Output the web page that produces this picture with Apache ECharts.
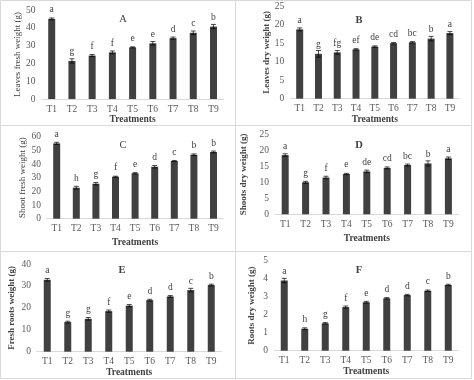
<!DOCTYPE html>
<html><head><meta charset="utf-8">
<script src="https://cdn.jsdelivr.net/npm/echarts@6/dist/echarts.min.js"></script>
<style>html,body{margin:0;padding:0;background:#fff}#c{width:474px;height:380px}</style>
</head><body><div id="c"></div><script>
const categories = ['T1','T2','T3','T4','T5','T6','T7','T8','T9'];

const leavesFresh = [45.0, 21.4, 24.4, 26.2, 29.0, 31.3, 34.2, 37.2, 40.7];
const leavesFreshErr = [0.5, 1.2, 0.6, 0.8, 0.3, 1.0, 0.6, 1.0, 1.2];
const leavesFreshLetters = ['a','g','f','f','e','e','d','c','b'];

const leavesDry = [18.7, 12.1, 12.5, 13.3, 14.05, 14.95, 15.2, 16.2, 17.7];
const leavesDryErr = [0.4, 0.9, 0.5, 0.2, 0.2, 0.2, 0.2, 0.6, 0.4];
const leavesDryLetters = ['a','g','fg','ef','de','cd','bc','b','a'];

const shootFresh = [55.1, 22.7, 25.6, 30.7, 33.2, 38.0, 42.2, 46.8, 48.8];
const shootFreshErr = [0.8, 1.0, 0.9, 0.4, 0.5, 0.9, 0.4, 0.6, 0.7];
const shootFreshLetters = ['a','h','g','f','e','d','c','b','b'];

const shootDry = [18.5, 10.0, 11.5, 12.6, 13.4, 14.5, 15.4, 15.9, 17.5];
const shootDryErr = [0.4, 0.3, 0.4, 0.2, 0.4, 0.3, 0.3, 0.8, 0.4];
const shootDryLetters = ['a','g','f','e','de','cd','bc','b','a'];

const rootsFresh = [32.8, 13.5, 15.0, 18.5, 21.0, 23.5, 25.2, 28.1, 30.4];
const rootsFreshErr = [0.6, 0.4, 0.6, 0.5, 0.5, 0.4, 0.4, 0.8, 0.4];
const rootsFreshLetters = ['a','g','g','f','e','d','d','c','b'];

const rootsDry = [3.9, 1.22, 1.52, 2.42, 2.69, 2.91, 3.09, 3.33, 3.65];
const rootsDryErr = [0.12, 0.05, 0.04, 0.06, 0.05, 0.04, 0.04, 0.04, 0.04];
const rootsDryLetters = ['a','h','g','f','e','d','d','c','b'];

const panelTitles = ['A','B','C','D','E','F'];
const yTitles = ['Leaves fresh weight (g)','Leaves dry weight (g)','Shoot fresh weight (g)','Shoots dry weight (g)','Fresh roots weight (g)','Roots dry weight (g)'];
const xTitle = 'Treatments';
const yMaxes = [50, 25, 60, 25, 40, 5];
const yIntervals = [10, 5, 10, 5, 10, 1];

const panels = [
  {v: leavesFresh, e: leavesFreshErr, l: leavesFreshLetters},
  {v: leavesDry, e: leavesDryErr, l: leavesDryLetters},
  {v: shootFresh, e: shootFreshErr, l: shootFreshLetters},
  {v: shootDry, e: shootDryErr, l: shootDryLetters},
  {v: rootsFresh, e: rootsFreshErr, l: rootsFreshLetters},
  {v: rootsDry, e: rootsDryErr, l: rootsDryLetters}
];

// layout (positions/styles only)
const layout = [
  {left: 41.6, top: 10, width: 182, height: 89, yGap: 12, xGap: 14.5, tx: 118, ty: 14, bold: false},
  {left: 290.3, top: 6, width: 169, height: 92.7, yGap: 17, xGap: 15.5, tx: 354, ty: 15, bold: true},
  {left: 46.9, top: 136.7, width: 176.4, height: 82, yGap: 17.4, xGap: 18.9, tx: 118, ty: 140, bold: false},
  {left: 275, top: 134.3, width: 183.6, height: 80, yGap: 26.8, xGap: 19.2, tx: 354, ty: 140, bold: true},
  {left: 37, top: 264, width: 184.5, height: 87.7, yGap: 20.8, xGap: 15.2, tx: 117, ty: 265, bold: true},
  {left: 274, top: 260.7, width: 184.5, height: 90, yGap: 17.5, xGap: 16.2, tx: 354, ty: 265.7, bold: true}
];

const FONT = 'Liberation Serif';
const grid = [], xAxis = [], yAxis = [], series = [], title = [];

panels.forEach((p, i) => {
  const L = layout[i];
  grid.push({left: L.left, top: L.top, width: L.width, height: L.height, containLabel: false});
  xAxis.push({
    type: 'category', gridIndex: i, data: categories,
    name: xTitle, nameLocation: 'middle', nameGap: L.xGap,
    nameTextStyle: {fontFamily: FONT, fontSize: 9.5, fontWeight: 'bold', color: '#404040'},
    axisLine: {lineStyle: {color: '#d9d9d9', width: 1}},
    axisTick: {show: false},
    axisLabel: {fontFamily: FONT, fontSize: 9.5, color: '#595959', margin: 5}
  });
  yAxis.push({
    type: 'value', gridIndex: i, min: 0, max: yMaxes[i], interval: yIntervals[i],
    name: yTitles[i], nameLocation: 'middle', nameGap: L.yGap, nameRotate: 90,
    nameTextStyle: {fontFamily: FONT, fontSize: 9, fontWeight: L.bold ? 'bold' : 'normal', color: '#404040'},
    axisLine: {show: false}, axisTick: {show: false}, splitLine: {show: false},
    axisLabel: {fontFamily: FONT, fontSize: 9.5, color: '#595959', margin: 6}
  });
  series.push({
    type: 'bar', xAxisIndex: i, yAxisIndex: i, data: p.v, barWidth: 7,
    itemStyle: {color: '#404040'},
    label: {show: true, position: 'top', distance: 4, fontFamily: FONT, fontSize: 9.5, color: '#404040',
      formatter: (d) => p.l[d.dataIndex]},
    silent: true, animation: false
  });
  series.push({
    type: 'custom', xAxisIndex: i, yAxisIndex: i,
    data: p.v.map((v, k) => [k, v, p.e[k]]),
    renderItem: (params, api) => {
      const x = api.value(0), v = api.value(1), e = api.value(2);
      const hi = api.coord([x, v + e]), lo = api.coord([x, v - e]);
      const w = 2.5;
      const st = {stroke: '#000', lineWidth: 0.7};
      return {type: 'group', children: [
        {type: 'line', shape: {x1: hi[0], y1: hi[1], x2: lo[0], y2: lo[1]}, style: st},
        {type: 'line', shape: {x1: hi[0]-w, y1: hi[1], x2: hi[0]+w, y2: hi[1]}, style: st},
        {type: 'line', shape: {x1: lo[0]-w, y1: lo[1], x2: lo[0]+w, y2: lo[1]}, style: st}
      ]};
    },
    z: 3, silent: true, animation: false
  });
  title.push({text: panelTitles[i], left: L.tx, top: L.ty, textAlign: 'center', textVerticalAlign: 'middle',
    textStyle: {fontFamily: FONT, fontSize: 10.5, fontWeight: L.bold ? 'bold' : 'normal', color: '#404040'}});
});

const border = {stroke: '#d9d9d9', lineWidth: 1, fill: 'none'};
const graphic = [
  {type: 'rect', shape: {x: 0.5, y: 0.5, width: 235, height: 125}, style: border, silent: true},
  {type: 'rect', shape: {x: 235.5, y: 0.5, width: 236, height: 125}, style: border, silent: true},
  {type: 'rect', shape: {x: 0.5, y: 125.5, width: 235, height: 126}, style: border, silent: true},
  {type: 'rect', shape: {x: 235.5, y: 125.5, width: 236, height: 126}, style: border, silent: true},
  {type: 'rect', shape: {x: 0.5, y: 251.5, width: 235, height: 127}, style: border, silent: true},
  {type: 'rect', shape: {x: 235.5, y: 251.5, width: 236, height: 127}, style: border, silent: true}
];

const chart = echarts.init(document.getElementById('c'), null, {renderer: 'canvas'});
chart.setOption({animation: false, backgroundColor: '#fff', title, grid, xAxis, yAxis, series, graphic});
</script></body></html>
